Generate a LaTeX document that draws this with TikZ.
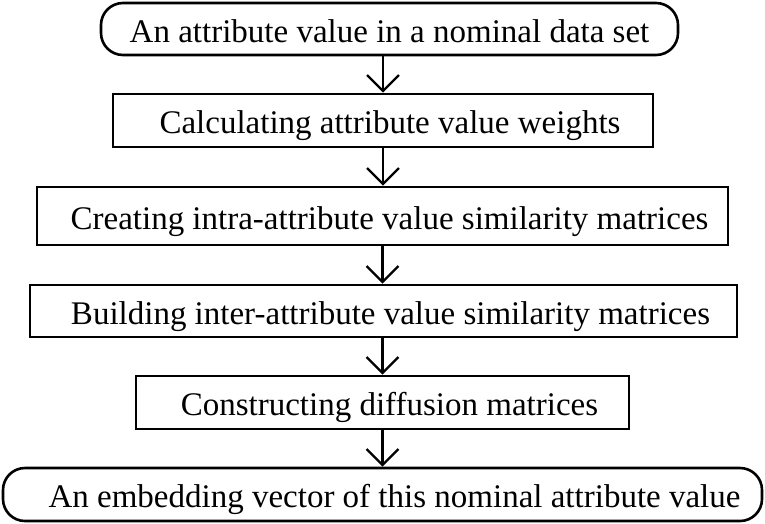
\documentclass[tikz,border=0pt]{standalone}
\usepackage{fontspec}
\setmainfont{Liberation Serif}
\usetikzlibrary{arrows.meta}

\tikzset{
  stepbox/.style={draw, line width=2.6pt, inner sep=0pt,
    font=\fontsize{33}{40}\selectfont, text height=30pt, text depth=4pt},
  termbox/.style={stepbox, rounded corners=22pt},
  lead/.style={execute at begin node={\hspace*{#1}}},
  flow/.style={line width=2.4pt, -{Straight Barb[length=16pt,width=32pt,line width=2.4pt]}}
}

\begin{document}
\begin{tikzpicture}[x=1pt, y=-1pt]
\useasboundingbox (0,0) rectangle (765,523);
\node[termbox, minimum width=577pt, minimum height=52pt] (start) at (389.5,29){An attribute value in a nominal data set};
\node[stepbox, lead=14pt, minimum width=540pt, minimum height=53pt] (weights) at (383,120.5){Calculating attribute value weights};
\node[stepbox, lead=14pt, minimum width=691pt, minimum height=58pt] (intra) at (382.5,216){Creating intra-attribute value similarity matrices};
\node[stepbox, lead=14pt, minimum width=707pt, minimum height=52pt] (inter) at (383.5,311){Building inter-attribute value similarity matrices};
\node[stepbox, lead=14pt, minimum width=493pt, minimum height=53pt] (diffusion) at (382.5,402.5){Constructing diffusion matrices};
\node[termbox, lead=24pt, minimum width=759pt, minimum height=53pt] (embed) at (382.5,494.5){An embedding vector of this nominal attribute value};
\draw[flow] (start.south -| weights.north) -- (weights.north);
\draw[flow] (weights.south) -- (weights.south |- intra.north);
\draw[flow] (intra.south) -- (intra.south |- inter.north);
\draw[flow] (inter.south -| diffusion.north) -- (diffusion.north);
\draw[flow] (diffusion.south) -- (embed.north);

\end{tikzpicture}
\end{document}
